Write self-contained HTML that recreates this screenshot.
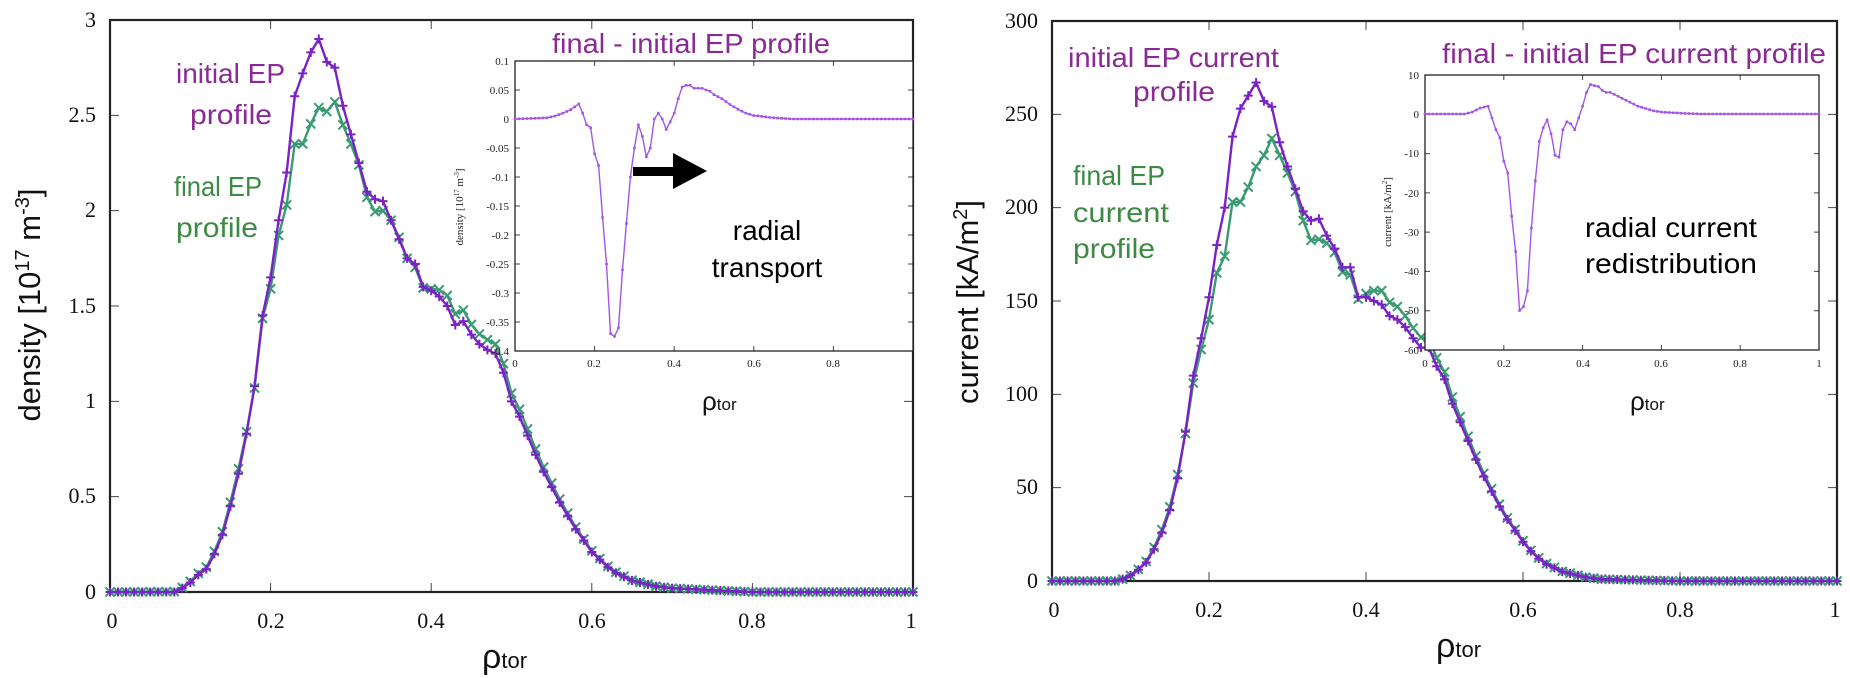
<!DOCTYPE html>
<html><head><meta charset="utf-8">
<style>
html,body{margin:0;padding:0;background:#fff;}
svg{display:block;}
.tl{font-family:"Liberation Serif",serif;font-size:22px;fill:#111;}
.ti{font-family:"Liberation Serif",serif;font-size:11px;fill:#222;}
.ax{font-family:"Liberation Sans",sans-serif;fill:#111;}
.lab{font-family:"Liberation Sans",sans-serif;font-size:28px;}
</style></head>
<body>
<svg id="s" width="1850" height="678" viewBox="0 0 1850 678" xmlns="http://www.w3.org/2000/svg">
<rect width="1850" height="678" fill="#fff"/>
<g id="g"></g>
<!-- Left main labels -->
<g class="tl" text-anchor="end">
<text x="96" y="27">3</text><text x="96" y="122">2.5</text><text x="96" y="217">2</text>
<text x="96" y="313">1.5</text><text x="96" y="408">1</text><text x="96" y="503">0.5</text><text x="96" y="599">0</text>
</g>
<g class="tl" text-anchor="middle">
<text x="112" y="628">0</text><text x="271" y="628">0.2</text><text x="431" y="628">0.4</text>
<text x="592" y="628">0.6</text><text x="752" y="628">0.8</text><text x="911" y="628">1</text>
</g>
<text class="ax" font-size="31" transform="translate(40,305) rotate(-90)" text-anchor="middle">density [10<tspan font-size="20" dy="-11">17</tspan><tspan dy="11"> m</tspan><tspan font-size="20" dy="-11">-3</tspan><tspan dy="11">]</tspan></text>
<text class="ax" x="482" y="668" font-size="34">ρ<tspan font-size="22">tor</tspan></text>
<!-- Right main labels -->
<g class="tl" text-anchor="end">
<text x="1038" y="28">300</text><text x="1038" y="121">250</text><text x="1038" y="214">200</text>
<text x="1038" y="308">150</text><text x="1038" y="401">100</text><text x="1038" y="494">50</text><text x="1038" y="588">0</text>
</g>
<g class="tl" text-anchor="middle">
<text x="1054" y="617">0</text><text x="1209" y="617">0.2</text><text x="1366" y="617">0.4</text>
<text x="1523" y="617">0.6</text><text x="1680" y="617">0.8</text><text x="1835" y="617">1</text>
</g>
<text class="ax" font-size="31" transform="translate(978,302) rotate(-90)" text-anchor="middle">current [kA/m<tspan font-size="20" dy="-11">2</tspan><tspan dy="11">]</tspan></text>
<text class="ax" x="1436" y="657" font-size="34">ρ<tspan font-size="22">tor</tspan></text>

<!-- annotations -->
<text class="lab" x="176" y="83" fill="#8a2a94" textLength="109" lengthAdjust="spacingAndGlyphs">initial EP</text>
<text class="lab" x="190" y="124" fill="#8a2a94" textLength="82" lengthAdjust="spacingAndGlyphs">profile</text>
<text class="lab" x="174" y="196" fill="#3d8a45" textLength="88" lengthAdjust="spacingAndGlyphs">final EP</text>
<text class="lab" x="176" y="237" fill="#3d8a45" textLength="82" lengthAdjust="spacingAndGlyphs">profile</text>
<text class="lab" x="1068" y="67" fill="#8a2a94" textLength="211" lengthAdjust="spacingAndGlyphs">initial EP current</text>
<text class="lab" x="1133" y="101" fill="#8a2a94" textLength="82" lengthAdjust="spacingAndGlyphs">profile</text>
<text class="lab" x="1073" y="185" fill="#3d8a45" textLength="92" lengthAdjust="spacingAndGlyphs">final EP</text>
<text class="lab" x="1073" y="222" fill="#3d8a45" textLength="96" lengthAdjust="spacingAndGlyphs">current</text>
<text class="lab" x="1073" y="258" fill="#3d8a45" textLength="82" lengthAdjust="spacingAndGlyphs">profile</text>

<text class="lab" x="552" y="53" font-size="30" fill="#8a2a94" textLength="278" lengthAdjust="spacingAndGlyphs">final - initial EP profile</text>
<text class="lab" x="1442" y="63" font-size="30" fill="#8a2a94" textLength="384" lengthAdjust="spacingAndGlyphs">final - initial EP current profile</text>
<text class="lab" x="767" y="240" font-size="26" fill="#000" text-anchor="middle">radial</text>
<text class="lab" x="767" y="277" font-size="26" fill="#000" text-anchor="middle">transport</text>
<text class="lab" x="1671" y="237" font-size="26" fill="#000" text-anchor="middle" textLength="172" lengthAdjust="spacingAndGlyphs">radial current</text>
<text class="lab" x="1671" y="273" font-size="26" fill="#000" text-anchor="middle" textLength="172" lengthAdjust="spacingAndGlyphs">redistribution</text>
<!-- arrow -->
<rect x="633" y="167" width="42" height="9" fill="#000"/>
<polygon points="673,153 707,171 673,189" fill="#000"/>

<!-- left inset labels -->
<g class="ti" text-anchor="end">
<text x="509" y="65">0.1</text><text x="509" y="94">0.05</text><text x="509" y="123">0</text>
<text x="509" y="152">-0.05</text><text x="509" y="181">-0.1</text><text x="509" y="210">-0.15</text>
<text x="509" y="239">-0.2</text><text x="509" y="268">-0.25</text><text x="509" y="297">-0.3</text>
<text x="509" y="326">-0.35</text><text x="509" y="355">-0.4</text>
</g>
<g class="ti" text-anchor="middle">
<text x="515" y="367">0</text><text x="594" y="367">0.2</text><text x="674" y="367">0.4</text>
<text x="754" y="367">0.6</text><text x="833" y="367">0.8</text>
</g>
<text class="ti" font-size="10" transform="translate(463,207) rotate(-90)" text-anchor="middle">density [10<tspan font-size="7" dy="-4">17</tspan><tspan dy="4"> m</tspan><tspan font-size="7" dy="-4">-3</tspan><tspan dy="4">]</tspan></text>
<text class="ax" x="702" y="410" font-size="26">ρ<tspan font-size="17">tor</tspan></text>

<!-- right inset labels -->
<g class="ti" text-anchor="end">
<text x="1419" y="79">10</text><text x="1419" y="118">0</text><text x="1419" y="157">-10</text>
<text x="1419" y="197">-20</text><text x="1419" y="236">-30</text><text x="1419" y="275">-40</text>
<text x="1419" y="314">-50</text><text x="1419" y="354">-60</text>
</g>
<g class="ti" text-anchor="middle">
<text x="1425" y="367">0</text><text x="1504" y="367">0.2</text><text x="1583" y="367">0.4</text>
<text x="1661" y="367">0.6</text><text x="1740" y="367">0.8</text><text x="1819" y="367">1</text>
</g>
<text class="ti" font-size="10" transform="translate(1391,212) rotate(-90)" text-anchor="middle">current [kA/m<tspan font-size="7" dy="-4">2</tspan><tspan dy="4">]</tspan></text>
<text class="ax" x="1630" y="410" font-size="26">ρ<tspan font-size="17">tor</tspan></text>
</svg>
<script>
(function(){
var NS="http://www.w3.org/2000/svg",g=document.getElementById("g");
function el(t,a){var e=document.createElementNS(NS,t);for(var k in a)e.setAttribute(k,a[k]);g.appendChild(e);return e;}
function interp(kp){var r=[];for(var i=0;i<=100;i++){var x=i/100,v=0;for(var j=0;j<kp.length-1;j++){if(x>=kp[j][0]-1e-9&&x<=kp[j+1][0]+1e-9){var t=(x-kp[j][0])/(kp[j+1][0]-kp[j][0]);v=kp[j][1]+t*(kp[j+1][1]-kp[j][1]);break;}}if(x>kp[kp.length-1][0])v=kp[kp.length-1][1];r.push(v);}return r;}
var dI=interp([[0,0],[0.08,0],[0.09,0.02],[0.1,0.05],[0.11,0.09],[0.12,0.12],[0.13,0.2],[0.14,0.3],[0.15,0.45],[0.16,0.62],[0.17,0.83],[0.18,1.08],[0.19,1.45],[0.2,1.65],[0.21,1.95],[0.22,2.2],[0.23,2.6],[0.24,2.72],[0.25,2.83],[0.26,2.9],[0.27,2.78],[0.28,2.75],[0.29,2.55],[0.3,2.4],[0.31,2.25],[0.32,2.1],[0.33,2.06],[0.34,2.05],[0.35,1.95],[0.36,1.85],[0.37,1.75],[0.38,1.72],[0.39,1.6],[0.4,1.58],[0.41,1.55],[0.42,1.5],[0.43,1.4],[0.44,1.42],[0.45,1.35],[0.46,1.3],[0.47,1.27],[0.48,1.25],[0.49,1.15],[0.5,1.0],[0.51,0.92],[0.52,0.82],[0.53,0.72],[0.54,0.63],[0.55,0.55],[0.56,0.47],[0.57,0.4],[0.58,0.33],[0.59,0.27],[0.6,0.21],[0.61,0.17],[0.62,0.13],[0.63,0.1],[0.64,0.08],[0.65,0.06],[0.66,0.05],[0.67,0.04],[0.68,0.03],[0.7,0.02],[0.75,0.01],[0.8,0],[1,0]]);
var dD=interp([[0,0],[0.08,0.002],[0.1,0.005],[0.12,0.01],[0.14,0.016],[0.16,0.026],[0.17,0.01],[0.18,-0.01],[0.19,-0.015],[0.2,-0.06],[0.21,-0.08],[0.22,-0.17],[0.23,-0.25],[0.24,-0.37],[0.25,-0.375],[0.26,-0.36],[0.27,-0.26],[0.28,-0.18],[0.29,-0.1],[0.3,-0.05],[0.31,-0.01],[0.32,-0.03],[0.33,-0.065],[0.34,-0.05],[0.35,0.0],[0.36,0.01],[0.37,0.0],[0.38,-0.018],[0.39,-0.005],[0.4,0.01],[0.41,0.035],[0.42,0.055],[0.43,0.058],[0.44,0.058],[0.45,0.053],[0.46,0.053],[0.47,0.053],[0.48,0.05],[0.49,0.048],[0.5,0.042],[0.52,0.035],[0.54,0.025],[0.56,0.017],[0.58,0.01],[0.6,0.006],[0.65,0.002],[0.7,0],[1,0]]);
var cI=interp([[0,0],[0.08,0],[0.09,1],[0.1,3],[0.11,6],[0.12,10],[0.13,17],[0.14,26],[0.15,38],[0.16,55],[0.17,80],[0.18,110],[0.19,130],[0.2,152],[0.21,180],[0.22,200],[0.23,238],[0.24,253],[0.25,260],[0.26,267],[0.27,257],[0.28,254],[0.29,235],[0.3,222],[0.31,210],[0.32,198],[0.33,193],[0.34,194],[0.35,185],[0.36,178],[0.37,168],[0.38,168],[0.39,152],[0.4,152],[0.41,150],[0.42,148],[0.43,142],[0.44,140],[0.45,136],[0.46,130],[0.47,125],[0.48,125],[0.49,115],[0.5,108],[0.51,95],[0.52,85],[0.53,75],[0.54,65],[0.55,56],[0.56,48],[0.57,40],[0.58,33],[0.59,27],[0.6,21],[0.61,16],[0.62,12],[0.63,9],[0.64,7],[0.65,5],[0.66,4],[0.67,3],[0.68,2],[0.7,1],[0.75,0.5],[0.8,0],[1,0]]);
var cD=interp([[0,0],[0.1,0],[0.12,0.5],[0.14,1.5],[0.16,2],[0.17,-1],[0.18,-4],[0.19,-6],[0.2,-12],[0.21,-15],[0.22,-26],[0.23,-35],[0.24,-50],[0.25,-49],[0.26,-45],[0.27,-29],[0.28,-17],[0.29,-7],[0.3,-3.5],[0.31,-1.5],[0.32,-5],[0.33,-10.5],[0.34,-11],[0.35,-4],[0.36,-2],[0.37,-2.5],[0.38,-4],[0.39,-1],[0.4,2],[0.41,5.5],[0.42,7.5],[0.43,7.2],[0.44,7],[0.45,6],[0.46,5.5],[0.47,5.5],[0.48,5],[0.49,4.5],[0.5,4],[0.52,3],[0.54,2],[0.56,1.4],[0.58,0.8],[0.6,0.5],[0.65,0.2],[0.7,0],[1,0]]);
var dF=dI.map(function(v,i){return v+dD[i];}),cF=cI.map(function(v,i){return v+cD[i];});
function series(arr,X,Y,col,mk,w,ms){var p="",m="";for(var i=0;i<arr.length;i++){var x=X(i/100),y=Y(arr[i]);p+=(i?"L":"M")+x.toFixed(1)+","+y.toFixed(1);
 if(mk=="+")m+="M"+(x-ms)+","+y+"h"+(2*ms)+"M"+x+","+(y-ms)+"v"+(2*ms);
 else if(mk=="x")m+="M"+(x-ms)+","+(y-ms)+"l"+(2*ms)+","+(2*ms)+"M"+(x-ms)+","+(y+ms)+"l"+(2*ms)+","+(-2*ms);
 else m+="M"+(x-1.3)+","+y+"h2.6";}
 el("path",{d:p,fill:"none",stroke:col,"stroke-width":w});
 el("path",{d:m,fill:"none",stroke:col,"stroke-width":mk=="."?2.6:2});}
function frame(x0,y0,x1,y1,xt,yt,tl,sw){var d="";xt.forEach(function(x){d+="M"+x+","+y1+"v"+(-tl)+"M"+x+","+y0+"v"+tl;});yt.forEach(function(y){d+="M"+x0+","+y+"h"+tl+"M"+x1+","+y+"h"+(-tl);});
 el("path",{d:d,stroke:"#444","stroke-width":1,fill:"none"});
 el("rect",{x:x0,y:y0,width:x1-x0,height:y1-y0,fill:"none",stroke:"#222","stroke-width":sw});}
function rng(a,b,n){var r=[];for(var i=0;i<=n;i++)r.push(a+(b-a)*i/n);return r;}
var LX=function(r){return 110+803*r;},LY=function(v){return 592-190.67*v;};
frame(110,20,913,592,rng(110,913,5),rng(20,592,6),9,2.2);
series(dF,LX,LY,"#3a9a72","x",2.4,4.5);
series(dI,LX,LY,"#7a22c8","+",2.4,4.5);
var RX=function(r){return 1052+785*r;},RY=function(v){return 581-1.867*v;};
frame(1052,21,1837,581,rng(1052,1837,5),rng(21,581,6),9,2.2);
series(cF,RX,RY,"#3a9a72","x",2.4,4.5);
series(cI,RX,RY,"#7a22c8","+",2.4,4.5);
el("rect",{x:515,y:61,width:398,height:290,fill:"#fff"});
var IX=function(r){return 515+398*r;},IY=function(v){return 119-580*v;};
frame(515,61,913,351,rng(515,913,5),rng(61,351,10),5,1.3);
series(dD,IX,IY,"#a455e8",".",1.4,0);
el("rect",{x:1425,y:75,width:394,height:275,fill:"#fff"});
var JX=function(r){return 1425+394*r;},JY=function(v){return 114-3.93*v;};
frame(1425,75,1819,350,rng(1425,1819,5),rng(75,350,7),5,1.3);
series(cD,JX,JY,"#a455e8",".",1.4,0);
})();
</script>
</body></html>
